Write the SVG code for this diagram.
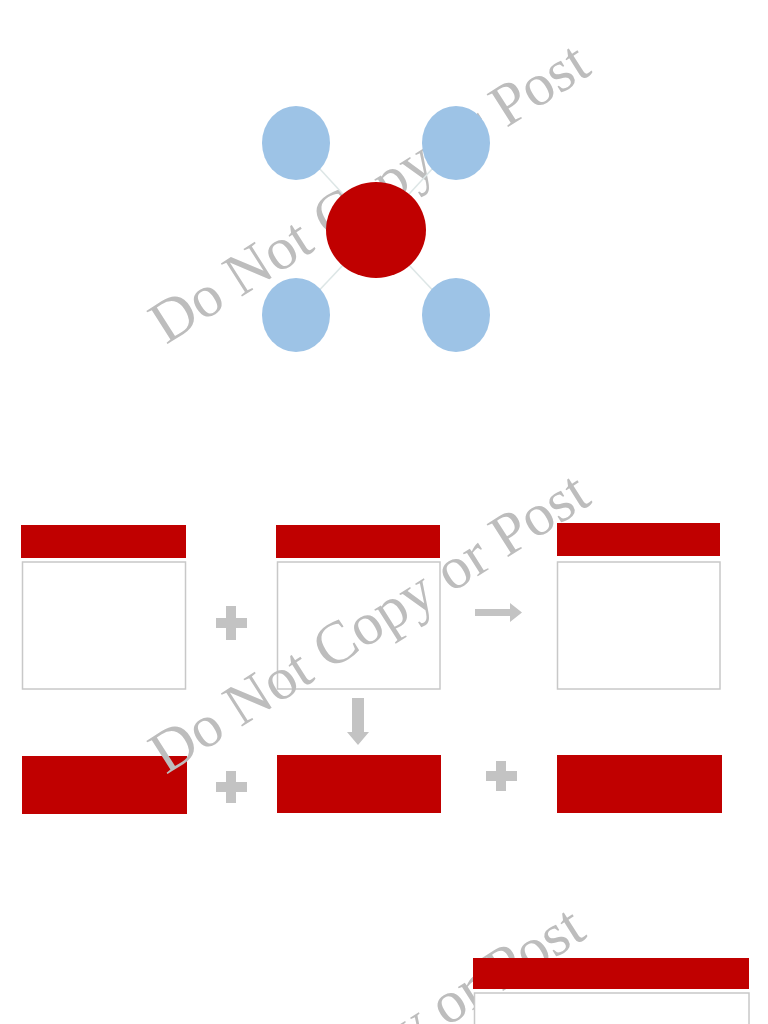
<svg xmlns="http://www.w3.org/2000/svg" width="768" height="1024" viewBox="0 0 768 1024">
<style>
.red{fill:#c00000}
.blue{fill:#9dc3e6}
.body{fill:#fff;stroke:#c8c8c8;stroke-width:1.5}
.body2{fill:none;stroke:#c8c8c8;stroke-width:1.5}
.sym{fill:#c3c3c3}
.link{stroke:#dde6e6;stroke-width:1.5}
.wm{font-family:"Liberation Serif",serif;font-size:60px;fill:#bdbdbd}
</style>
<rect width="768" height="1024" fill="#fff"/>
<text class="wm" transform="translate(166,345) rotate(-32.5)">Do Not Copy or Post</text>
<g id="connectors">
<line class="link" x1="296" y1="143" x2="376" y2="230"/>
<line class="link" x1="456" y1="143" x2="376" y2="230"/>
<line class="link" x1="296" y1="315" x2="376" y2="230"/>
<line class="link" x1="456" y1="315" x2="376" y2="230"/>
</g>
<g id="n_tl"><ellipse class="blue" cx="296" cy="143" rx="34" ry="37"/></g>
<g id="n_tr"><ellipse class="blue" cx="456" cy="143" rx="34" ry="37"/></g>
<g id="n_bl"><ellipse class="blue" cx="296" cy="315" rx="34" ry="37"/></g>
<g id="n_br"><ellipse class="blue" cx="456" cy="315" rx="34" ry="37"/></g>
<g id="n_center"><ellipse class="red" cx="376" cy="230" rx="50" ry="48"/></g>

<g id="box1"><rect class="red" x="21" y="525" width="165" height="33"/><rect class="body2" x="22.5" y="562" width="163" height="127"/></g>
<g id="box2"><rect class="red" x="276" y="525" width="164" height="33"/><rect class="body2" x="277.5" y="562" width="162.5" height="127"/></g>
<g id="box3"><rect class="red" x="557" y="523" width="163" height="33"/><rect class="body2" x="557.5" y="562" width="162.5" height="127"/></g>

<g id="plus1"><path class="sym" d="M226 606h10v12h11v10h-11v12h-10v-12h-10v-10h10z"/></g>
<g id="arrow_right"><path class="sym" d="M475 609h35v-6l12 9.5l-12 9.5v-6h-35z"/></g>
<g id="arrow_down"><path class="sym" d="M352 698h12v34h5l-11 13l-11-13h5z"/></g>

<g id="box4"><rect class="red" x="22" y="756" width="165" height="58"/></g>
<g id="plus2"><path class="sym" d="M226 771h10v11h11v10h-11v11h-10v-11h-10v-10h10z"/></g>
<g id="box5"><rect class="red" x="277" y="755" width="164" height="58"/></g>
<g id="plus3"><path class="sym" d="M496 761h10v10h11v10h-11v10h-10v-10h-10v-10h10z"/></g>
<g id="box6"><rect class="red" x="557" y="755" width="165" height="58"/></g>

<text class="wm" transform="translate(166,775) rotate(-32.5)">Do Not Copy or Post</text>
<text class="wm" transform="translate(161,1209) rotate(-32.5)">Do Not Copy or Post</text>

<g id="box7"><rect class="red" x="473" y="958" width="276" height="31"/><rect class="body" x="474.5" y="993" width="274.5" height="40"/></g>
</svg>
